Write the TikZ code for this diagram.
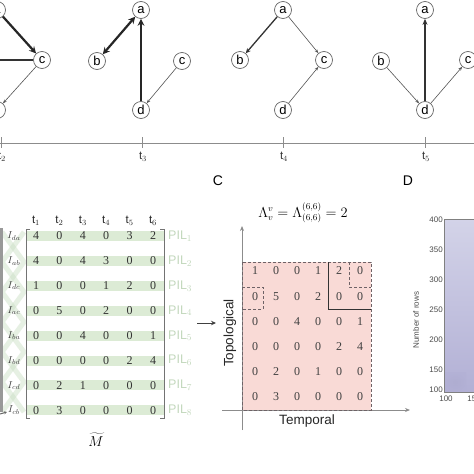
\documentclass[tikz,border=0pt]{standalone}
\usepackage{fontspec}
\setmainfont{Liberation Serif}
\setsansfont{Liberation Sans}
\usetikzlibrary{arrows.meta}
\definecolor{nodegray}{HTML}{666666}
\definecolor{thingray}{HTML}{555555}
\definecolor{axisgray}{HTML}{8C8C8C}
\definecolor{bandgreen}{HTML}{DCEBD5}
\definecolor{pilgreen}{HTML}{C3D8BD}
\definecolor{pinkfill}{HTML}{F9DAD6}
\definecolor{dashgray}{HTML}{6E6266}
\definecolor{heattop}{HTML}{D3D3E8}
\definecolor{heatbot}{HTML}{B2B0D5}
\definecolor{leftgreen}{HTML}{C9DEC2}
\tikzset{
  gn/.style={circle,draw=nodegray,fill=white,line width=0.7pt,minimum size=17pt,inner sep=0pt,font=\sffamily\fontsize{13}{13}\selectfont},
  thickedge/.style={line width=2.2pt,black!85,-{Stealth[length=7pt,width=7pt,inset=2.5pt]}},
  thickboth/.style={line width=2.2pt,black!85,{Stealth[length=7pt,width=7pt,inset=2.5pt]}-{Stealth[length=7pt,width=7pt,inset=2.5pt]}},
  medge/.style={line width=1.3pt,black!80,-{Stealth[length=5pt,width=4.5pt]}},
  thinedge/.style={line width=0.6pt,thingray,-{Stealth[length=4pt,width=3pt]}},
  tick/.style={line width=0.7pt,axisgray},
  tlab/.style={font=\sffamily\fontsize{11.5}{11.5}\selectfont,text=black!80},
  panellab/.style={font=\sffamily\fontsize{14}{14}\selectfont},
  mcell/.style={font=\fontsize{12}{12}\selectfont,text=black!80,inner sep=0pt},
  chead/.style={font=\sffamily\fontsize{11.5}{11.5}\selectfont,text=black!85,inner sep=0pt},
  rlab/.style={font=\fontsize{10}{10}\selectfont,text=black!75,inner sep=0pt},
  pil/.style={font=\sffamily\fontsize{12.5}{12.5}\selectfont,text=pilgreen,anchor=west,inner sep=0pt},
  ccell/.style={font=\fontsize{12}{12}\selectfont,text=black!75,inner sep=0pt},
  axlab/.style={font=\sffamily\fontsize{13.5}{13.5}\selectfont,text=black!85},
  dlab/.style={font=\sffamily\fontsize{8}{8}\selectfont,text=black!70,inner sep=0pt},
  brk/.style={line width=0.8pt,black!55},
  dbox/.style={line width=0.9pt,dashgray,dash pattern=on 3pt off 2pt},
  sbox/.style={line width=1pt,black!80}
}
\begin{document}
\begin{tikzpicture}[x=1pt,y=-1pt]
\clip (0,0) rectangle (474,474);
\fill[white] (0,0) rectangle (474,474);

% ---- timeline
\coordinate (tlL) at (0,143);
\coordinate (tlR) at (474,143);
\draw[line width=0.8pt,axisgray] (tlL) -- (tlR);
\foreach \x/\n in {1/2,142/3,283/4,425/5}{
  \coordinate (tk\n a) at (\x,137);
  \coordinate (tk\n b) at (\x,148);
  \draw[tick] (tk\n a) -- (tk\n b);
  \node[tlab] (tl\n) at (\x+1,157) {t$_{\n}$};
}

% ---- panel t2 (cut)
\node[gn] (a2) at (-3,10) {a};
\node[gn] (c2) at (42,60) {c};
\node[gn] (d2) at (-3,110) {d};
\coordinate (e2) at (-5,60);
\draw[line width=1.3pt,black!80] (e2) -- (c2);
\draw[thickedge] (a2) -- (c2);
\draw[thinedge] (c2) -- (d2);

% ---- panel t3
\node[gn] (a3) at (141,10) {a};
\node[gn] (b3) at (97,61) {b};
\node[gn] (c3) at (182,61) {c};
\node[gn] (d3) at (141,110) {d};
\draw[thickboth] (a3) -- (b3);
\draw[thickedge] (d3) -- (a3);
\draw[thinedge] (c3) -- (d3);

% ---- panel t4
\node[gn] (a4) at (283,10) {a};
\node[gn] (b4) at (240,60) {b};
\node[gn] (c4) at (324,60) {c};
\node[gn] (d4) at (283,110) {d};
\draw[medge] (a4) -- (b4);
\draw[thinedge] (a4) -- (c4);
\draw[thinedge] (d4) -- (c4);

% ---- panel t5
\node[gn] (a5) at (425,10) {a};
\node[gn] (b5) at (381,61) {b};
\node[gn] (c5) at (468,60) {c};
\node[gn] (d5) at (425,110) {d};
\draw[line width=2pt,black!80,-{Stealth[length=6pt,width=5pt]}] (d5) -- (a5);
\draw[thinedge] (b5) -- (d5);
\draw[thinedge] (d5) -- (c5);

% ---- panel labels
\node[panellab] (labC) at (218,181) {C};
\node[panellab] (labD) at (408,181) {D};

% ---- left decoration (cut figure)
\begin{scope}[line width=5pt,leftgreen,opacity=0.45]
  \draw (2,232) -- (24,262) -- (2,292) -- (24,322) -- (2,352) -- (24,382) -- (2,412);
  \draw (24,232) -- (2,262) -- (24,292) -- (2,322) -- (24,352) -- (2,382) -- (24,412);
\end{scope}
\coordinate (lbT) at (1.5,228);
\coordinate (lbB) at (1.5,412);
\draw[line width=3pt,black!40] (lbT) -- (lbB);
\coordinate (lar1) at (0,414);
\coordinate (lar2) at (7,412);
\draw[line width=1pt,black!60,-{Stealth[length=3pt,width=3pt]}] (lar1) -- (lar2);

% ---- matrix M
\foreach \i in {1,...,8}{
  \fill[bandgreen] (27,{236+24.9*(\i-1)-5}) rectangle (165,{236+24.9*(\i-1)+5});
}
\coordinate (lb1) at (30,229); \coordinate (lb2) at (26,229);
\coordinate (lb3) at (26,418); \coordinate (lb4) at (30,418);
\draw[brk] (lb1) -- (lb2) -- (lb3) -- (lb4);
\coordinate (rb1) at (160,229); \coordinate (rb2) at (164,229);
\coordinate (rb3) at (164,418); \coordinate (rb4) at (160,418);
\draw[brk] (rb1) -- (rb2) -- (rb3) -- (rb4);
\foreach \j in {1,...,6}{
  \node[chead] (th\j) at ({36+23.4*(\j-1)},221) {t$_{\j}$};
}
\foreach \row [count=\i] in {{4,0,4,0,3,2},{4,0,4,3,0,0},{1,0,0,1,2,0},{0,5,0,2,0,0},{0,0,4,0,0,1},{0,0,0,0,2,4},{0,2,1,0,0,0},{0,3,0,0,0,0}}{
  \foreach \v [count=\j] in \row {
    \node[mcell] (m\i-\j) at ({36+23.4*(\j-1)},{236+24.9*(\i-1)}) {\v};
  }
}
\foreach \s [count=\i] in {da,ab,dc,ac,ba,bd,cd,cb}{
  \node[rlab] (rl\i) at (14,{236+24.9*(\i-1)}) {$I_{\s}$};
  \node[pil] (pil\i) at (168,{236+24.9*(\i-1)}) {PIL$_{\i}$};
}
\node[font=\fontsize{14}{14}\selectfont] (Mt) at (96,440) {$\widetilde{M}$};

% ---- arrow to panel C
\coordinate (arL) at (197,323);
\coordinate (arR) at (216,323);
\draw[line width=1pt,black!75,-{Stealth[length=5pt,width=4.5pt]}] (arL) -- (arR);

% ---- panel C
\fill[pinkfill] (242,262) rectangle (371,410);
\coordinate (yb) at (242,430);
\coordinate (yt) at (242,226);
\coordinate (xl) at (222,410);
\coordinate (xr) at (410,410);
\draw[line width=0.8pt,axisgray,-{Stealth[length=5pt,width=4pt]}] (yb) -- (yt);
\draw[line width=0.8pt,axisgray,-{Stealth[length=5pt,width=4pt]}] (xl) -- (xr);
\draw[dbox] (242,262) rectangle (371,410);
% solid box top-right
\coordinate (sb1) at (328,262); \coordinate (sb2) at (328,309); \coordinate (sb3) at (371,309);
\draw[sbox] (sb1) -- (sb2) -- (sb3);
% dashed inner box top-right
\coordinate (db1) at (349,262); \coordinate (db2) at (349,287); \coordinate (db3) at (371,287);
\draw[dbox] (db1) -- (db2) -- (db3);
% dashed small box left
\coordinate (dl1) at (242,287); \coordinate (dl2) at (263,287);
\coordinate (dl3) at (263,309); \coordinate (dl4) at (242,309);
\draw[dbox] (dl1) -- (dl2) -- (dl3) -- (dl4);
\foreach \row [count=\i] in {{1,0,0,1,2,0},{0,5,0,2,0,0},{0,0,4,0,0,1},{0,0,0,0,2,4},{0,2,0,1,0,0},{0,3,0,0,0,0}}{
  \foreach \v [count=\j] in \row {
    \node[ccell] (c\i-\j) at ({255+21*(\j-1)},{271+25.2*(\i-1)}) {\v};
  }
}
\node[font=\fontsize{13.5}{13.5}\selectfont] (form) at (303,213) {$\Lambda_v^v=\Lambda_{(6,6)}^{(6,6)}=2$};
\node[axlab,rotate=90] (topo) at (230,333) {Topological};
\node[axlab] (temp) at (307,421) {Temporal};

% ---- panel D
\shade[top color=heattop,bottom color=heatbot] (444,219) rectangle (476,392);
\shade[inner color=heatbot!80!black!20!heatbot,outer color=heatbot,opacity=0.5] (444,372) rectangle (466,392);
\draw[line width=0.7pt,black!50] (444,219) -- (444,392) -- (476,392);
\draw[line width=0.7pt,black!50] (444,219) -- (476,219);
\foreach \v/\y in {400/220,350/250,300/280,250/310,200/340,150/370,100/390}{
  \node[dlab,anchor=east] (yl\v) at (443,\y) {\v};
}
\node[dlab] (xl100) at (446,399) {100};
\node[dlab] (xl150) at (474,399) {150};
\node[dlab,rotate=90] (nrows) at (416,320) {Number of rows};
\end{tikzpicture}
\end{document}
